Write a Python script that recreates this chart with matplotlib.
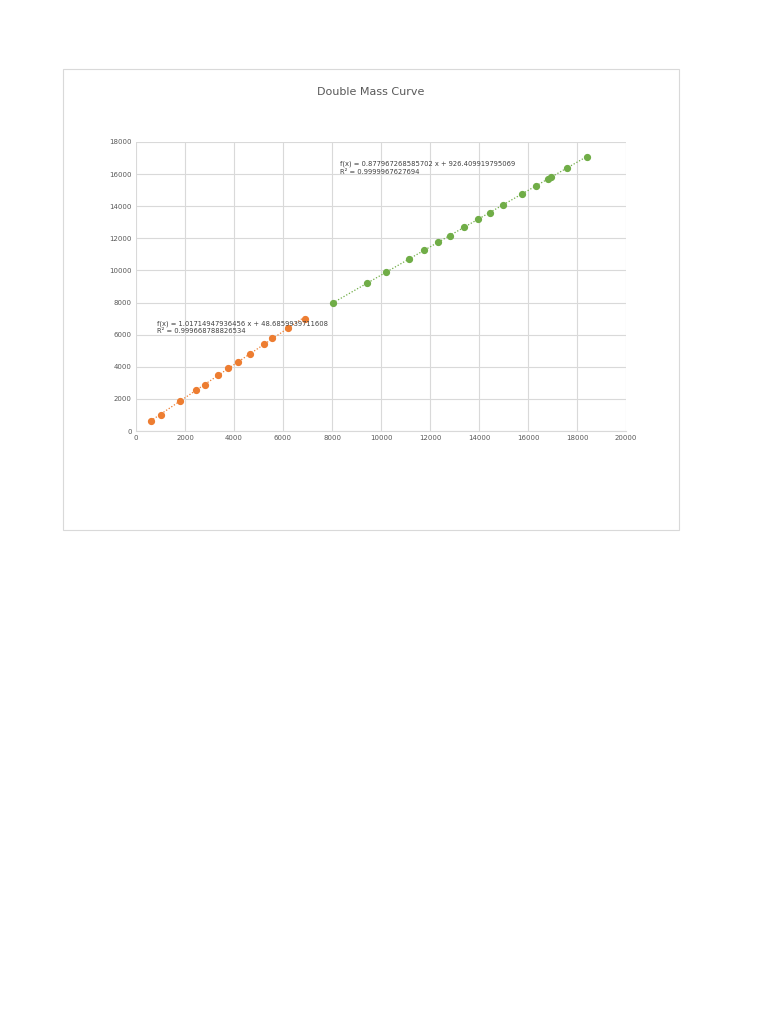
import matplotlib
matplotlib.use("Agg")
import matplotlib.pyplot as plt
from matplotlib.patches import Rectangle
import numpy as np

# Data
orange_x = [595, 1014, 1784, 2432, 2811, 3365, 3757, 4162, 4649, 5230, 5568, 6216, 6878]
orange_y = [604, 1021, 1854, 2542, 2896, 3479, 3917, 4292, 4812, 5437, 5812, 6417, 7000]
green_x = [8027, 9431, 10195, 11149, 11735, 12335, 12826, 13399, 13957, 14449, 14967,
           15771, 16330, 16821, 16930, 17612, 18389]
green_y = [7958, 9203, 9888, 10718, 11257, 11776, 12170, 12689, 13187, 13602, 14079,
           14785, 15262, 15676, 15822, 16402, 17087]
x_ticks = [0, 2000, 4000, 6000, 8000, 10000, 12000, 14000, 16000, 18000, 20000]
y_ticks = [0, 2000, 4000, 6000, 8000, 10000, 12000, 14000, 16000, 18000]
title = "Double Mass Curve"
orange_eq = "f(x) = 1.01714947936456 x + 48.6859939711608\nR² = 0.999668788826534"
green_eq = "f(x) = 0.877967268585702 x + 926.409919795069\nR² = 0.9999967627694"

ORANGE = "#ED7D31"
GREEN = "#70AD47"
W, H = 768, 1024

fig = plt.figure(figsize=(W / 100, H / 100), dpi=100)
fig.patch.set_facecolor("white")

# chart area border
fig.patches.append(Rectangle((63 / W, 1 - 530 / H), (679 - 63) / W, (530 - 69) / H,
                             transform=fig.transFigure, fill=False,
                             edgecolor="#d9d9d9", linewidth=0.8))

ax = fig.add_axes([136 / W, 1 - 431 / H, 490 / W, 289 / H])
ax.set_xlim(0, 20000)
ax.set_ylim(0, 18000)
ax.set_xticks(x_ticks)
ax.set_yticks(y_ticks)
ax.set_xticklabels([str(v) for v in x_ticks])
ax.set_yticklabels([str(v) for v in y_ticks])
ax.tick_params(length=0, labelsize=5, labelcolor="#595959", pad=3)
ax.grid(True, color="#d9d9d9", linewidth=0.8)
ax.set_axisbelow(True)
for s in ["top", "right", "left"]:
    ax.spines[s].set_visible(False)
ax.spines["bottom"].set_color("#d9d9d9")
ax.spines["bottom"].set_linewidth(0.8)

# trendlines
for xs, ys, col in [(orange_x, orange_y, ORANGE), (green_x, green_y, GREEN)]:
    xs_a = np.array(xs, float)
    ys_a = np.array(ys, float)
    m, b = np.polyfit(xs_a, ys_a, 1)
    tx = np.array([xs_a.min(), xs_a.max()])
    ax.plot(tx, m * tx + b, linestyle=(0, (1, 1.5)), color=col, linewidth=0.9, zorder=2)

ax.plot(orange_x, orange_y, linestyle="none", marker="o", markersize=4.2,
        color=ORANGE, zorder=3)
ax.plot(green_x, green_y, linestyle="none", marker="o", markersize=4.2,
        color=GREEN, zorder=3)

ax.text(857, 6475, orange_eq, fontsize=4.9, color="#404040", va="center",
        ha="left", linespacing=1.3)
ax.text(8330, 16400, green_eq, fontsize=4.9, color="#404040", va="center",
        ha="left", linespacing=1.3)

fig.text(371 / W, 1 - 92 / H, title, fontsize=8, color="#595959",
         ha="center", va="center")

fig.savefig("out.png", dpi=100)
